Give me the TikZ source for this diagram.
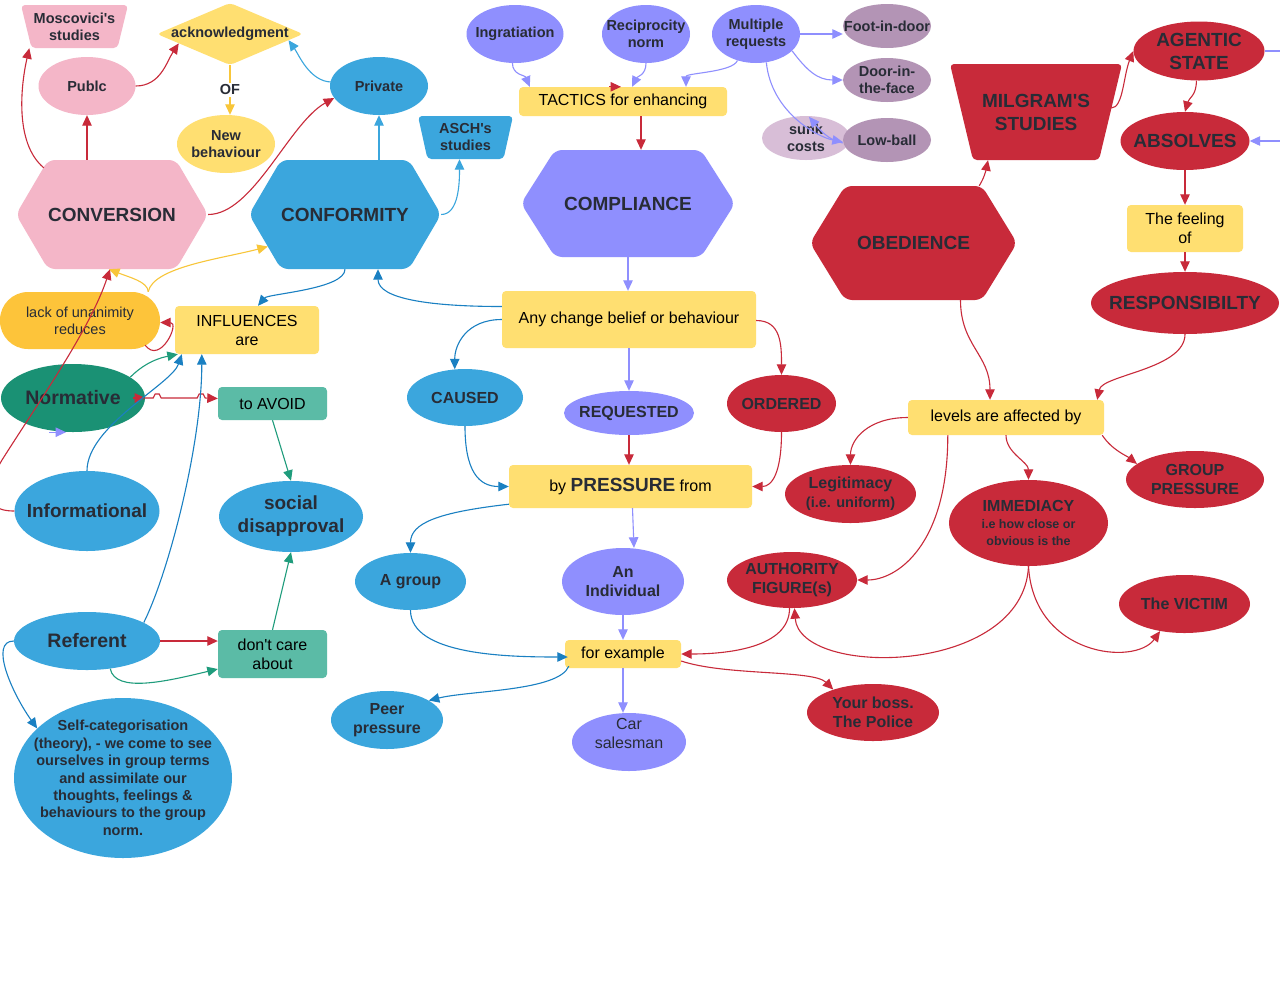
\documentclass[tikz,border=0pt]{standalone}
\usepackage{fontspec}
\setmainfont{Liberation Sans}[Ligatures=TeXOff]
\usetikzlibrary{arrows.meta,calc,shapes.geometric}
\definecolor{cpink}{HTML}{F4B6C8}
\definecolor{cblue}{HTML}{3BA6DD}
\definecolor{cblued}{HTML}{1A80C2}
\definecolor{cyel}{HTML}{FFDF71}
\definecolor{corange}{HTML}{FDC43A}
\definecolor{cgreen}{HTML}{1A9174}
\definecolor{cteal}{HTML}{5BBBA6}
\definecolor{cpurple}{HTML}{8F8FFE}
\definecolor{cmauve}{HTML}{B394B5}
\definecolor{clmauve}{HTML}{D8BED7}
\definecolor{cred}{HTML}{C82A3A}
\definecolor{ctext}{HTML}{282C36}
\definecolor{cyline}{HTML}{F8C63A}
\definecolor{cgline}{HTML}{1F9C7C}
\newcommand\bfs[2]{\bfseries\fontsize{#1}{#2}\selectfont}
\newcommand\rgs[2]{\fontsize{#1}{#2}\selectfont}
\newcommand\HEX[9]{%
 \fill[#7,rounded corners=7] ({#2-#4/2},#3) -- ({#2-#4/2+#6},{#3-#5/2}) -- ({#2+#4/2-#6},{#3-#5/2}) -- ({#2+#4/2},#3) -- ({#2+#4/2-#6},{#3+#5/2}) -- ({#2-#4/2+#6},{#3+#5/2}) -- cycle;
 \node[minimum width=#4,minimum height=#5,inner sep=0pt,align=center,text=ctext,font=#8] (#1) at (#2,#3) {#9};}
\newcommand\TRAP[9]{%
 \fill[#7,rounded corners=4] ({#2-#4/2},{#3-#6/2}) -- ({#2+#4/2},{#3-#6/2}) -- ({#2+#5/2},{#3+#6/2}) -- ({#2-#5/2},{#3+#6/2}) -- cycle;
 \node[minimum width=#5,minimum height=#6,inner sep=0pt,align=center,text=ctext,font=#8] (#1) at (#2,#3) {#9};}
\newcommand\ELL[8]{%
 \node[ellipse,fill=#6,minimum width=#4,minimum height=#5,inner sep=0pt] (#1) at (#2,#3) {};
 \node[align=center,text=ctext,font=#7,inner sep=0pt] (#1-t) at (#1.center) {#8};}
\begin{document}
\begin{tikzpicture}[x=1pt,y=-1pt,
 box/.style={rectangle,rounded corners=4,inner sep=0pt,align=center,text=black},
 arr/.style={line width=1.1pt,-{Triangle[length=10.5pt,width=9.5pt]}},
 re/.style={arr,draw=cred}, be/.style={arr,draw=cblued}, lbe/.style={arr,draw=cblue},
 ye/.style={arr,draw=cyline}, ge/.style={arr,draw=cgline}, pe/.style={arr,draw=cpurple}]
\fill[white] (0,0) rectangle (1280,989);
\useasboundingbox (0,0) rectangle (1280,989);
% ---------- nodes ----------
\TRAP{mosc}{74.5}{26.5}{107}{86}{43}{cpink}{\bfs{14.5}{17}}{Moscovici's\\studies}
\fill[cyel,rounded corners=4] (157,34) -- (230,3) -- (303,34) -- (230,65) -- cycle;
\node[minimum width=146,minimum height=62,inner sep=0pt,text=ctext,font=\bfs{14.5}{17}] (ack) at (230,34) {acknowledgment};
\ELL{publ}{87}{86}{97}{58}{cpink}{\bfs{14.5}{17}}{Publc}
\ELL{newb}{226}{144}{98}{58}{cyel}{\bfs{14.5}{17}}{New\\behaviour}
\ELL{priv}{379}{86}{98}{58}{cblue}{\bfs{14.5}{17}}{Private}
\TRAP{asch}{465.5}{137.5}{95}{76}{43}{cblue}{\bfs{14.5}{17}}{ASCH's\\studies}
\HEX{conv}{112}{214.5}{192}{109}{32}{cpink}{\bfs{19}{22}}{CONVERSION}
\HEX{conf}{345}{214.5}{192}{109}{32}{cblue}{\bfs{19}{22}}{CONFORMITY}
\ELL{ingr}{515}{34}{97}{58}{cpurple}{\bfs{14.5}{17}}{Ingratiation}
\ELL{recip}{646}{34}{88}{58}{cpurple}{\bfs{14.5}{17}}{Reciprocity\\norm}
\ELL{multi}{756}{34}{88}{58}{cpurple}{\bfs{14.5}{17}}{Multiple\\requests}
\ELL{foot}{887}{26}{88}{44}{cmauve}{\bfs{14.5}{17}}{Foot-in-door}
\ELL{door}{887}{80}{88}{44}{cmauve}{\bfs{14.5}{17}}{Door-in-\\the-face}
\ELL{sunk}{806}{138}{88}{44}{clmauve}{\bfs{14.5}{17}}{sunk\\costs}
\ELL{lowb}{887}{140}{88}{44}{cmauve}{\bfs{14.5}{17}}{Low-ball}
\node[box,fill=cyel,minimum width=208,minimum height=29,font=\rgs{16}{19}] (tact) at (623,101.5) {TACTICS for enhancing};
\HEX{compl}{628}{203.5}{214}{107}{34}{cpurple}{\bfs{19}{22}}{COMPLIANCE}
\TRAP{milg}{1036}{112}{172}{126}{96}{cred}{\bfs{19}{23}}{MILGRAM'S\\STUDIES}
\ELL{agent}{1199}{51}{131}{59}{cred}{\bfs{19}{23}}{AGENTIC\\STATE}
\ELL{absolv}{1185}{141}{129}{58}{cred}{\bfs{19}{23}}{ABSOLVES}
\node[box,fill=cyel,minimum width=116,minimum height=47,font=\rgs{16}{19}] (feel) at (1185,228.5) {The feeling\\of};
\ELL{resp}{1185}{303}{188}{62}{cred}{\bfs{19}{23}}{RESPONSIBILTY}
\HEX{obed}{913.5}{243}{207}{114}{35}{cred}{\bfs{19}{22}}{OBEDIENCE}
\node[rectangle,rounded corners=28,fill=corange,minimum width=160,minimum height=57,inner sep=0pt,align=center,text=ctext,font=\rgs{14.5}{17}] (lack) at (80,320.5) {lack of unanimity\\reduces};
\node[box,fill=cyel,minimum width=144,minimum height=48,font=\rgs{16}{19}] (infl) at (247,330) {INFLUENCES\\are};
\node[box,fill=cyel,minimum width=254,minimum height=57,font=\rgs{16}{19}] (any) at (629,319.5) {Any change belief or behaviour};
\ELL{norm}{73}{398}{144}{68}{cgreen}{\bfs{19.5}{23}}{Normative}
\node[box,fill=cteal,minimum width=109,minimum height=33,font=\rgs{16}{19}] (avoid) at (272.5,403.5) {to AVOID};
\ELL{caused}{465}{397.5}{116}{57}{cblue}{\bfs{16}{19}}{CAUSED}
\ELL{req}{629}{413}{130}{44}{cpurple}{\bfs{16}{19}}{REQUESTED}
\ELL{ordered}{781.5}{403.5}{109}{57}{cred}{\bfs{16}{19}}{ORDERED}
\node[box,fill=cyel,minimum width=196,minimum height=35,font=\rgs{16}{19}] (levels) at (1006,417.5) {levels are affected by};
\ELL{info}{87}{511}{145}{80}{cblue}{\bfs{19}{23}}{Informational}
\ELL{social}{291}{516.5}{144}{71}{cblue}{\bfs{19}{23}}{social\\disapproval}
\node[box,fill=cyel,minimum width=243,minimum height=43,font=\rgs{16}{19}] (press) at (630.5,486.5) {by {\color{ctext}\bfs{19}{22}PRESSURE} from};
\ELL{legit}{850.5}{494}{131}{58}{cred}{\bfs{16}{19}}{Legitimacy\\{\bfs{14.5}{17}(i.e. uniform)}}
\ELL{group}{1195}{479.5}{138}{57}{cred}{\bfs{16}{19}}{GROUP\\PRESSURE}
\ELL{immed}{1028.5}{523}{159}{86}{cred}{\bfs{16}{17}}{IMMEDIACY\\{\bfs{12.5}{15}i.e how close or}\\{\bfs{12.5}{15}obvious is the}}
\ELL{agroup}{410.5}{581.5}{111}{57}{cblue}{\bfs{16}{19}}{A group}
\ELL{indiv}{623}{581.5}{122}{67}{cpurple}{\bfs{16}{19}}{An\\Individual}
\ELL{auth}{792}{580}{130}{56}{cred}{\bfs{16}{19}}{AUTHORITY\\FIGURE(s)}
\ELL{victim}{1184.5}{604}{131}{58}{cred}{\bfs{16}{19}}{The VICTIM}
\ELL{refer}{87}{641}{146}{58}{cblue}{\bfs{19.5}{23}}{Referent}
\node[box,fill=cteal,minimum width=109,minimum height=48,font=\rgs{16}{19}] (dontcare) at (272.5,654) {don't care\\about};
\node[box,fill=cyel,minimum width=116,minimum height=28,font=\rgs{16}{19}] (forex) at (623,654) {for example};
\ELL{boss}{873}{712.5}{132}{57}{cred}{\bfs{16}{19}}{Your boss.\\The Police}
\ELL{peer}{387}{720}{112}{58}{cblue}{\bfs{16}{19}}{Peer\\pressure}
\ELL{car}{629}{742}{114}{58}{cpurple}{\rgs{16}{19}}{Car\\salesman\vphantom{y}\\[-2pt]\mbox{}}
\ELL{selfcat}{123}{778}{218}{160}{cblue}{\bfs{14.5}{17.4}}{Self-categorisation\\(theory), - we come to see\\ourselves in group terms\\and assimilate our\\thoughts, feelings \&\\behaviours to the group\\norm.}
\coordinate (offL) at (2,460);
\coordinate (rt1) at (1290,51);
\coordinate (rt2) at (1290,141);
% ---------- red connectors ----------
\draw[re] ($(conv.north west)+(28,8)$) .. controls +(-30,-25) and +(-8,35) .. ($(mosc.south west)+(-2,0)$);
\draw[re] (conv.north -| publ.south) -- (publ.south);
\draw[re] (publ.east) .. controls +(25,0) and +(-12,18) .. ($(ack.west)!0.3!(ack.south)$);
\draw[re] (conv.east) .. controls +(45,0) and +(-45,25) .. (priv.195);
\draw[re] ($(tact.north)+(-14,0)$) -- ($(tact.north)+(-2,0)$);
\draw[re] ($(tact.south)+(18,0)$) -- ($(compl.north)+(13,0)$);
\draw[re] ($(obed.north east)+(-38,0)$) .. controls +(5,-8) and +(-2,10) .. ($(milg.south)+(-48,0)$);
\draw[re] ($(milg.east)+(12,-4)$) .. controls +(12,0) and +(-10,25) .. (agent.west);
\draw[re] (agent.-95) .. controls +(0,15) and +(4,-14) .. (absolv.north);
\draw[re] (absolv.south) -- (feel.north);
\draw[re] (feel.south) -- (resp.north);
\draw[re] ($(obed.south)+(47,0)$) .. controls +(0,45) and +(0,-45) .. ($(levels.north)+(-16,0)$);
\draw[re] (resp.south) .. controls +(0,35) and +(5,-25) .. ($(levels.north east)+(-7,0)$);
\draw[re] ($(any.east)+(0,1)$) .. controls +(25,0) and +(0,-30) .. (ordered.north);
\draw[re] (ordered.south) .. controls +(0,40) and +(20,0) .. (press.east);
\draw[re] (req.south) -- (req.south |- press.north);
\draw[re] (levels.west) .. controls +(-40,0) and +(0,-25) .. (legit.north);
\draw[re] ($(levels.south west)+(40,0)$) .. controls +(0,110) and +(40,0) .. (auth.east);
\draw[re] (levels.south) .. controls +(0,18) and +(0,-18) .. (immed.north);
\draw[re] ($(levels.south east)+(-2,0)$) .. controls +(10,15) and +(-10,-8) .. (group.165);
\draw[re] (immed.south) .. controls +(-5,110) and +(5,70) .. (auth.-85);
\draw[re] (immed.south) .. controls +(5,90) and +(-25,35) .. (victim.-132);
\draw[re] (auth.-95) .. controls +(0,40) and +(45,0) .. (forex.east);
\draw[re] ($(forex.east)+(0,7)$) .. controls +(45,15) and +(-20,-20) .. (boss.150);
\draw[re] ($(norm.east)+(-12,0)$) -- (norm.east);
\draw[re] (norm.east) -- ++(8,0) -- ++(2,-4) -- ++(4,0) -- ++(2,4) -- ++(36,0) -- ++(2,-4) -- ++(4,0) -- ++(2,4) -- ($(avoid.west)+(0,-5)$);
\draw[re] (refer.east) -- ($(dontcare.west)+(0,-13)$);
\draw[re] ($(lack.south east)+(-15,-4)$) .. controls +(15,20) and +(20,0) .. ($(lack.east)+(0,2)$);
\draw[re] (info.west) .. controls +(-35,0) and +(-15,25) .. (offL) .. controls +(38,-60) and +(-20,60) .. ($(conv.south)+(-2,0)$);
% ---------- yellow ----------
\draw[ye] (ack.south) -- node[fill=white,inner sep=1.5pt,font=\bfs{14.5}{17},text=ctext] (of) {OF} (ack.south |- newb.north);
\draw[ye] ($(lack.north east)+(-12,0)$) .. controls +(0,-10) and +(20,8) .. ($(conv.south)+(-3,0)$);
\draw[ye] ($(lack.north east)+(-12,0)$) .. controls +(5,-25) and +(-45,12) .. ($(conf.west)+(19,32)$);
% ---------- blue ----------
\draw[lbe] (conf.north -| priv.south) -- (priv.south);
\draw[lbe] ($(priv.west)+(2,-4)$) .. controls +(-22,0) and +(10,14) .. ($(ack.east)!0.2!(ack.south)$);
\draw[lbe] (conf.east) .. controls +(18,0) and +(0,22) .. ($(asch.south)+(-6,0)$);
\draw[be] (conf.south) .. controls +(0,20) and +(10,-12) .. ($(infl.north)+(11,0)$);
\draw[be] ($(any.west)+(0,-13)$) .. controls +(-70,0) and +(0,30) .. ($(conf.south)+(33,0)$);
\draw[be] (any.west) .. controls +(-35,0) and +(0,-25) .. (caused.110);
\draw[be] (caused.south) .. controls +(0,45) and +(-30,0) .. (press.west);
\draw[be] ($(press.south west)+(0,-4)$) .. controls +(-70,8) and +(0,-30) .. (agroup.north);
\draw[be] (agroup.south) .. controls +(0,45) and +(-60,0) .. ($(forex.west)+(3,3)$);
\draw[be] ($(forex.south west)+(4,-2)$) .. controls +(-10,25) and +(40,-10) .. (peer.25);
\draw[be] (info.north) .. controls +(0,-45) and +(-10,30) .. ($(infl.south west)+(7,0)$);
\draw[be] (refer.18) .. controls +(25,-50) and +(0,90) .. ($(infl.south west)+(27,0)$);
\draw[be] (refer.west) .. controls +(-25,0) and +(-25,-35) .. (selfcat.150);
% ---------- green ----------
\draw[ge] (norm.20) .. controls +(10,-10) and +(-25,5) .. ($(infl.south west)+(3,0)$);
\draw[ge] (avoid.south) -- (social.north);
\draw[ge] (dontcare.north) -- (social.south);
\draw[ge] (refer.-50) .. controls +(5,25) and +(-50,12) .. ($(dontcare.west)+(0,15)$);
% ---------- purple ----------
\draw[pe] (ingr.-95) .. controls +(0,12) and +(-5,-12) .. ($(tact.north west)+(11,0)$);
\draw[pe] (recip.-90) .. controls +(0,12) and +(5,-10) .. ($(tact.north)+(9,0)$);
\draw[pe] (multi.-125) .. controls +(-5,12) and +(0,-14) .. ($(tact.north)+(63,0)$);
\draw[pe] (multi.east) -- ($(foot.west)+(0,8)$);
\draw[pe] (multi.-25) .. controls +(15,20) and +(-25,0) .. (door.west);
\draw[pe] (multi.-70) .. controls +(5,50) and +(-25,-5) .. ($(lowb.west)+(0,2)$);
\draw[pe] ($(lowb.west)+(0,3)$) .. controls +(-15,-3) and +(10,12) .. ($(sunk.north)+(3,1)$);
\draw[pe] (compl.south) -- (compl.south |- any.north);
\draw[pe] (any.south) -- (req.north);
\draw[pe] ($(press.south)+(2,0)$) -- ($(indiv.north)+(11,0)$);
\draw[pe] (indiv.south) -- (forex.north);
\draw[pe] (forex.south) -- (forex.south |- car.north);
\draw[pe] ($(norm.south)+(-24,0)$) -- ($(norm.south)+(-7,0)$);
\draw[pe,-] (agent.east) -- (rt1);
\draw[pe] (rt2) -- (absolv.east);
\end{tikzpicture}
\end{document}
